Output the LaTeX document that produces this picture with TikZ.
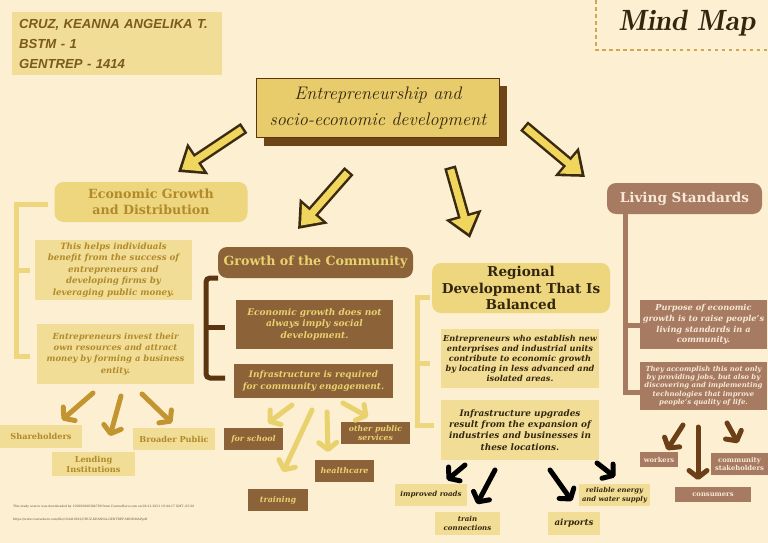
\documentclass[tikz,border=0pt]{standalone}
\usepackage{fontspec}
\setmainfont{DejaVu Serif}
\newfontfamily\authorfont{Liberation Sans}
\usetikzlibrary{arrows.meta, positioning, shadows}

\newlength\pxu
\setlength\pxu{0.3mm}
\newcommand\handfont{\fontfamily{lmr}\itshape\selectfont}
\newcommand\textsz[2]{\fontsize{#1}{#2}\selectfont}

\definecolor{bgcream}{HTML}{FCEFD2}
\definecolor{boxyellow}{HTML}{F1DD95}
\definecolor{blobyellow}{HTML}{EED67E}
\definecolor{goldtext}{HTML}{B18A2B}
\definecolor{midbrown}{HTML}{8C6239}
\definecolor{darkbrown}{HTML}{5B3510}
\definecolor{commyellow}{HTML}{E9D26E}
\definecolor{rosebrown}{HTML}{A77A62}
\definecolor{creamtext}{HTML}{F7E9D6}
\definecolor{titlefill}{HTML}{E8CB6A}
\definecolor{titleshadow}{HTML}{6E4318}
\definecolor{arrowyellow}{HTML}{F0D65C}
\definecolor{arrowdark}{HTML}{3B2A12}
\definecolor{goldarrow}{HTML}{C39530}
\definecolor{livarrow}{HTML}{6B3F18}
\definecolor{inktext}{HTML}{33260F}
\definecolor{authortext}{HTML}{7B5A1C}
\definecolor{dashgold}{HTML}{CFA850}

\begin{document}
\begin{tikzpicture}[
    x=0.3mm, y=-0.3mm,
    % Define styles for the different node types
    authorbox/.style={rectangle, fill=boxyellow, text=authortext, align=left, text width=196\pxu, minimum height=63\pxu, inner sep=7\pxu, font=\authorfont\bfseries\itshape\textsz{11.2}{17}},
    titlebox/.style={rectangle, fill=titlefill, draw=darkbrown, line width=1.2\pxu, minimum width=243\pxu, minimum height=59\pxu, text=inktext, align=center, drop shadow={shadow xshift=7\pxu, shadow yshift=-8\pxu, fill=titleshadow, opacity=1}, font=\handfont\textsz{15.5}{22}},
    yblob/.style={rectangle, rounded corners=9\pxu, fill=blobyellow, align=center, inner sep=0pt, font=\bfseries\textsz{10.8}{13.8}},
    bblob/.style={rectangle, rounded corners=9\pxu, fill=midbrown, text=commyellow, align=center, inner sep=0pt, font=\bfseries\textsz{10.8}{12}},
    rblob/.style={rectangle, rounded corners=9\pxu, fill=rosebrown, text=creamtext, align=center, inner sep=0pt, font=\bfseries\textsz{11.6}{12}},
    ecobox/.style={rectangle, fill=boxyellow, text=goldtext, align=center, inner sep=0pt},
    commbox/.style={rectangle, fill=midbrown, text=commyellow, align=center, inner sep=0pt},
    regbox/.style={rectangle, fill=boxyellow, text=inktext, align=center, inner sep=0pt},
    livbox/.style={rectangle, fill=rosebrown, text=creamtext, align=center, inner sep=0pt},
    % arrows
    bigout/.style={draw=arrowdark, line width=12\pxu, -{Triangle[length=7.2mm, width=10.8mm]}},
    bigin/.style={draw=arrowyellow, line width=7\pxu, shorten <=2.5\pxu, shorten >=4.5\pxu, -{Triangle[length=5.1mm, width=7.8mm]}},
    leafarrow/.style={line width=5\pxu, line cap=round, -{Straight Barb[length=2.1mm, width=5.4mm, round]}},
    ecoarrow/.style={leafarrow, draw=goldarrow},
    commarrow/.style={leafarrow, draw=commyellow},
    regarrow/.style={leafarrow, draw=black},
    livarrow/.style={leafarrow, draw=livarrow},
    bracket/.style={line width=5\pxu},
]

\fill[bgcream] (0,0) rectangle (768,543);
\useasboundingbox (0,0) rectangle (768,543);

% -------------------------
% Header
% -------------------------
\node (author) [authorbox, anchor=north west] at (12,12) {CRUZ, KEANNA ANGELIKA T.\\BSTM - 1\\GENTREP - 1414};
\draw[dashed, draw=dashgold, line width=1.5\pxu] (596,0) -- (596,50) -- (768,50);
\node (mindmap) [text=inktext, font=\handfont\bfseries\textsz{25}{25}] at (687,23) {Mind Map};

\node (title) [titlebox] at (378,108) {Entrepreneurship and\\socio-economic development};

% -------------------------
% Big arrows from the title
% -------------------------
\coordinate (arrA0) at (244,128); \coordinate (arrA1) at (178,172);
\coordinate (arrB0) at (349,171); \coordinate (arrB1) at (298,229);
\coordinate (arrC0) at (450,167); \coordinate (arrC1) at (470,238);
\coordinate (arrD0) at (524,126); \coordinate (arrD1) at (585,177);
\foreach \a in {A,B,C,D} {
    \draw[bigout] (arr\a0) -- (arr\a1);
    \draw[bigin] (arr\a0) -- (arr\a1);
}

% -------------------------
% Economic Growth and Distribution
% -------------------------
\node (ecohead) [yblob, text=goldtext, minimum width=193\pxu, minimum height=40\pxu] at (151,202) {Economic Growth\\and Distribution};
\draw[bracket, draw=blobyellow] (48,204) -- (16,204) -- (16,356) -- (30,356);
\draw[bracket, draw=blobyellow] (16,270) -- (30,270);
\node (ecohelp) [ecobox, minimum width=157\pxu, minimum height=60\pxu, font=\bfseries\itshape\textsz{7.4}{9.9}] at (113.5,270) {This helps individuals\\benefit from the success of\\entrepreneurs and\\developing firms by\\leveraging public money.};
\node (ecoinvest) [ecobox, minimum width=157\pxu, minimum height=60\pxu, font=\bfseries\itshape\textsz{7.2}{9.6}] at (115.5,354) {Entrepreneurs invest their\\own resources and attract\\money by forming a business\\entity.};
\node (sharehold) [ecobox, minimum width=82\pxu, minimum height=23\pxu, font=\bfseries\textsz{7}{9}] at (41,436.5) {Shareholders};
\node (lending) [ecobox, minimum width=83\pxu, minimum height=24\pxu, font=\bfseries\textsz{7}{8.5}] at (93.5,464) {Lending\\Institutions};
\node (broader) [ecobox, minimum width=82\pxu, minimum height=22\pxu, font=\bfseries\textsz{7}{9}] at (174,439) {Broader Public};
\coordinate (ea0) at (93,393); \coordinate (ea1) at (62,420);
\coordinate (eb0) at (121,396); \coordinate (eb1) at (110,436);
\coordinate (ec0) at (142,394); \coordinate (ec1) at (172,423);
\draw[ecoarrow] (ea0) -- (ea1);
\draw[ecoarrow] (eb0) -- (eb1);
\draw[ecoarrow] (ec0) -- (ec1);

% -------------------------
% Growth of the Community
% -------------------------
\node (commhead) [bblob, minimum width=195\pxu, minimum height=31\pxu] at (315.5,262.5) {Growth of the Community};
\draw[bracket, draw=darkbrown, rounded corners=4\pxu] (218,278) -- (206,278) -- (206,378) -- (225,378);
\draw[bracket, draw=darkbrown] (206,327) -- (225,327);
\node (commgrowth) [commbox, minimum width=157\pxu, minimum height=49\pxu, font=\bfseries\itshape\textsz{7.7}{10.2}] at (314.5,324.5) {Economic growth does not\\always imply social\\development.};
\node (comminfra) [commbox, minimum width=159\pxu, minimum height=34\pxu, font=\bfseries\itshape\textsz{7.6}{10.2}] at (313.5,381) {Infrastructure is required\\for community engagement.};
\node (school) [commbox, minimum width=59\pxu, minimum height=22\pxu, font=\bfseries\itshape\textsz{6.8}{8}] at (253.5,439) {for school};
\node (training) [commbox, minimum width=60\pxu, minimum height=22\pxu, font=\bfseries\itshape\textsz{6.8}{8}] at (278,500) {training};
\node (health) [commbox, minimum width=59\pxu, minimum height=22\pxu, font=\bfseries\itshape\textsz{6.8}{8}] at (344.5,471) {healthcare};
\node (otherpub) [commbox, minimum width=69\pxu, minimum height=22\pxu, font=\bfseries\itshape\textsz{6.6}{8}] at (375.5,433) {other public\\services};
\coordinate (ca0) at (292,405); \coordinate (ca1) at (268,423);
\coordinate (cb0) at (312,410); \coordinate (cb1) at (283,472);
\coordinate (cc0) at (327,412); \coordinate (cc1) at (328,452);
\coordinate (cd0) at (343,403); \coordinate (cd1) at (368,417);
\draw[commarrow] (ca0) -- (ca1);
\draw[commarrow] (cb0) -- (cb1);
\draw[commarrow] (cc0) -- (cc1);
\draw[commarrow] (cd0) -- (cd1);

% -------------------------
% Regional Development
% -------------------------
\node (reghead) [yblob, text=inktext, font=\bfseries\textsz{11.6}{14.2}, minimum width=178\pxu, minimum height=50\pxu] at (521,288) {Regional\\Development That Is\\Balanced};
\draw[bracket, draw=blobyellow] (430,297) -- (417,297) -- (417,425) -- (434,425);
\draw[bracket, draw=blobyellow] (417,363) -- (430,363);
\node (regfirms) [regbox, minimum width=158\pxu, minimum height=59\pxu, font=\bfseries\itshape\textsz{7}{8.7}] at (520,358.5) {Entrepreneurs who establish new\\enterprises and industrial units\\contribute to economic growth\\by locating in less advanced and\\isolated areas.};
\node (regupgrade) [regbox, minimum width=158\pxu, minimum height=60\pxu, font=\bfseries\itshape\textsz{7.6}{9.6}] at (520,430) {Infrastructure upgrades\\result from the expansion of\\industries and businesses in\\these locations.};
\node (roads) [regbox, minimum width=72\pxu, minimum height=22\pxu, font=\bfseries\itshape\textsz{6}{8}] at (431,495) {improved roads};
\node (train) [regbox, minimum width=65\pxu, minimum height=23\pxu, font=\bfseries\itshape\textsz{6}{8}] at (467.5,523.5) {train\\connections};
\node (airports) [regbox, minimum width=52\pxu, minimum height=23\pxu, font=\bfseries\itshape\textsz{7.4}{8}] at (574,523.5) {airports};
\node (energy) [regbox, minimum width=71\pxu, minimum height=22\pxu, font=\bfseries\itshape\textsz{5.8}{7.2}] at (614.5,495) {reliable energy\\and water supply};
\coordinate (ra0) at (465,465); \coordinate (ra1) at (447,480);
\coordinate (rb0) at (495,470); \coordinate (rb1) at (477,504);
\coordinate (rc0) at (550,470); \coordinate (rc1) at (572,501);
\coordinate (rd0) at (597,463); \coordinate (rd1) at (615,477);
\draw[regarrow] (ra0) -- (ra1);
\draw[regarrow] (rb0) -- (rb1);
\draw[regarrow] (rc0) -- (rc1);
\draw[regarrow] (rd0) -- (rd1);

% -------------------------
% Living Standards
% -------------------------
\node (livhead) [rblob, minimum width=155\pxu, minimum height=31\pxu] at (684.5,198.5) {Living Standards};
\draw[bracket, draw=rosebrown] (625,214) -- (625,392) -- (640,392);
\draw[bracket, draw=rosebrown] (625,325) -- (640,325);
\node (livpurpose) [livbox, minimum width=127\pxu, minimum height=49\pxu, font=\bfseries\itshape\textsz{7}{9.1}] at (703.5,324.5) {Purpose of economic\\growth is to raise people's\\living standards in a\\community.};
\node (livjobs) [livbox, minimum width=127\pxu, minimum height=48\pxu, font=\bfseries\itshape\textsz{5.9}{7}] at (703.5,386) {They accomplish this not only\\by providing jobs, but also by\\discovering and implementing\\technologies that improve\\people's quality of life.};
\node (workers) [livbox, minimum width=38\pxu, minimum height=15\pxu, font=\bfseries\textsz{5.8}{7}] at (659,459.5) {workers};
\node (consumers) [livbox, minimum width=76\pxu, minimum height=15\pxu, font=\bfseries\textsz{5.8}{7}] at (713,494.5) {consumers};
\node (stake) [livbox, minimum width=57\pxu, minimum height=22\pxu, font=\bfseries\textsz{5.8}{7.2}] at (739.5,464) {community\\stakeholders};
\coordinate (la0) at (683,425); \coordinate (la1) at (667,450);
\coordinate (lb0) at (698,427); \coordinate (lb1) at (698,480);
\coordinate (lc0) at (727,423); \coordinate (lc1) at (738,443);
\draw[livarrow] (la0) -- (la1);
\draw[livarrow] (lb0) -- (lb1);
\draw[livarrow] (lc0) -- (lc1);

% -------------------------
% Footer
% -------------------------
\node (footA) [anchor=west, inner sep=0pt, text=inktext!80, font=\textsz{2.6}{3}] at (13,507) {This study source was downloaded by 100000840384789 from CourseHero.com on 08-21-2021 19:44:17 GMT -05:00};
\node (footB) [anchor=west, inner sep=0pt, text=inktext!80, font=\textsz{2.6}{3}] at (13,520) {https://www.coursehero.com/file/104418619/CRUZ-KEANNA-GENTREP-MINDMAP.pdf};

\end{tikzpicture}
\end{document}
